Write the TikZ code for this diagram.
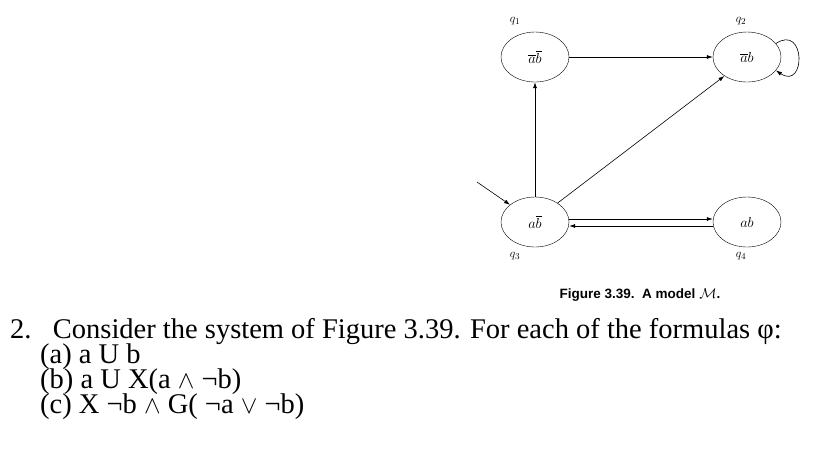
\documentclass[tikz,border=0pt]{standalone}
\usepackage{fontspec}
\setmainfont{Liberation Serif}
\newfontfamily\capfont{Liberation Sans}
\usetikzlibrary{arrows.meta,shapes.geometric}
\begin{document}
\begin{tikzpicture}[x=1pt,y=-1pt,
  st/.style={draw,ellipse,minimum width=68pt,minimum height=50pt,inner sep=0pt,font=\fontsize{14}{16}\selectfont},
  lb/.style={font=\fontsize{13}{15}\selectfont},
  ar/.style={-{Latex[length=6pt,width=4pt]},line width=0.6pt},
  txt/.style={anchor=west,inner sep=0pt,font=\fontsize{28.5}{30}\selectfont}]
\useasboundingbox (0,0) rectangle (827,459);
\node[st] (q1) at (535,57) {$\overline{a}\overline{b}$};
\node[st] (q2) at (747,57) {$\overline{a}b$};
\node[st] (q3) at (535,222) {$a\overline{b}$};
\node[st] (q4) at (747,222) {$ab$};
\node[lb] (l1) at (515,21) {$q_1$};
\node[lb] (l2) at (741,21) {$q_2$};
\node[lb] (l3) at (515,256) {$q_3$};
\node[lb] (l4) at (741,256) {$q_4$};
\coordinate (init) at (477,182);
\draw[ar] (init) -- (q3);
\draw[ar] (q1) -- (q2);
\draw[ar] (q3) -- (q1);
\draw[ar] (q3.40) -- (q2.220);
\draw[ar] ([yshift=-4pt]q4.west) -- ([yshift=-4pt]q3.east);
\draw[ar] ([yshift=3pt]q3.east) -- ([yshift=3pt]q4.west);
\draw[ar] (q2.25) .. controls +(30,-20) and +(30,20) .. (q2.-25);
\node[font=\capfont\bfseries\fontsize{13.5}{15}\selectfont] (cap) at (640,295) {Figure 3.39.\ \ A model $\mathcal{M}$.};
\node[txt] (t0) at (10,332) {2.\ \ \ Consider the system of Figure 3.39. For each of the formulas φ:};
\node[txt] (t1) at (40,357) {(a) a U b};
\node[txt] (t2) at (40,382) {(b) a U X(a $\land$ ¬b)};
\node[txt] (t3) at (40,407) {(c) X ¬b $\land$ G( ¬a $\lor$ ¬b)};
\end{tikzpicture}
\end{document}
